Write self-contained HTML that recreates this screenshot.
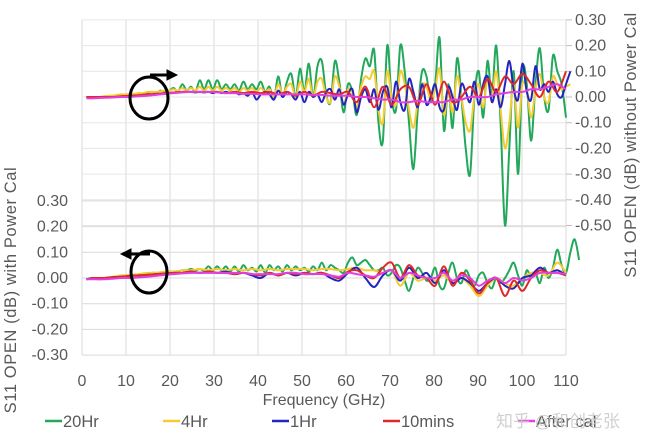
<!DOCTYPE html>
<html><head><meta charset="utf-8"><style>
html,body{margin:0;padding:0;background:#fff}
svg{display:block;font-family:"Liberation Sans","Noto Sans CJK SC",sans-serif}
</style></head><body>
<svg id="c" width="650" height="446" viewBox="0 0 650 446">
<g id="grid"></g>
<g id="axes"></g>
<g id="lines"></g>
<g fill="none" stroke="#000" stroke-width="3">
<ellipse cx="149" cy="98" rx="19" ry="21"/>
<path d="M150 75 H170"/><path d="M167 70 L177 75 L167 80 Z" fill="#000" stroke-width="1"/>
</g>
<g fill="none" stroke="#000" stroke-width="3">
<ellipse cx="149" cy="272" rx="18" ry="21"/>
<path d="M150 254 H128"/><path d="M131 249 L121 254 L131 259 Z" fill="#000" stroke-width="1"/>
</g>
<text x="16" y="290" transform="rotate(-90 16 290)" text-anchor="middle" font-size="16.5" letter-spacing="0.6" fill="#595959">S11 OPEN (dB) with Power Cal</text>
<text x="636" y="145" transform="rotate(-90 636 145)" text-anchor="middle" font-size="16.5" letter-spacing="0.4" fill="#595959">S11 OPEN (dB) without Power Cal</text>
<text x="324" y="405" text-anchor="middle" font-size="16" fill="#595959">Frequency (GHz)</text>
<g id="legend"></g>
<text x="496" y="427" font-size="17" fill="#c8c8c8" opacity="0.85">知乎 @和创老张</text>
</svg>
<script>
const xTicks=[0,10,20,30,40,50,60,70,80,90,100,110];
const leftTicks=[0.30,0.20,0.10,0.00,-0.10,-0.20,-0.30];
const rightTicks=[0.30,0.20,0.10,0.00,-0.10,-0.20,-0.30,-0.40,-0.50];
const legendNames=["20Hr","4Hr","1Hr","10mins","After cal"];
const colors=["#22a85a","#f2cc30","#2424c0","#e02828","#e040e0"];

const top20Hr=[0,0,0,0,0,.003,.005,.005,.01,.005,.01,.008,.015,.01,.015,.02,.015,.025,.02,.025,.035,.02,.05,.025,.04,.02,.065,.03,.065,.03,.065,.03,.05,.03,.05,.025,.06,.03,.05,.03,.06,.02,.04,-.01,.08,0,.06,.09,0,.11,.02,.13,0,.12,.14,.01,-.02,.14,.06,-.06,.05,.02,-.07,.07,.15,.12,.18,-.1,-.17,.2,0,-.05,.2,.1,-.1,-.28,-.05,.1,.08,-.02,.05,.23,-.13,.05,-.12,.15,0,-.2,-.3,0,.1,-.08,.14,0,.2,-.1,-.5,-.2,.1,-.3,.1,.05,-.17,.05,.19,0,-.05,.16,.1,.05,-.08];
const top4Hr=[0,0,0,0,.003,.005,.005,.008,.01,.01,.012,.012,.015,.015,.02,.02,.02,.022,.025,.025,.03,.025,.035,.025,.035,.025,.04,.025,.04,.025,.04,.025,.035,.025,.035,.02,.035,.025,.035,.02,.035,.02,.03,0,.05,.01,.04,.05,0,.06,.02,.07,0,.06,.07,0,-.02,.08,.04,-.03,.03,.02,-.04,.04,.08,.07,.1,-.05,-.1,.1,0,-.03,.1,.05,-.05,-.12,-.02,.05,.04,-.01,.03,.11,-.07,.03,-.06,.08,0,-.1,-.13,0,.05,-.04,.07,0,.1,-.05,-.2,-.1,.05,-.12,.05,.03,-.08,.03,.09,0,-.02,.08,.05,.03,.04,.05];
const top1Hr=[0,0,0,0,0,0,0,0,.002,.003,.004,.005,.005,.006,.007,.008,.01,.012,.013,.015,.017,.018,.02,.02,.02,.018,.02,.018,.02,.015,.02,.015,.02,.015,.02,.01,.015,.005,.02,-.01,.01,.02,.01,-.01,.025,0,.02,.01,-.01,.02,-.02,.02,0,.01,-.02,.02,.03,-.01,.03,-.03,.01,.03,-.06,0,.03,-.02,.03,-.05,.02,.04,-.04,.06,-.02,-.05,.07,.02,-.04,.05,-.03,0,.05,-.04,-.05,.04,0,-.05,.05,.02,-.02,.06,-.03,.05,.08,-.02,.03,-.04,.05,.14,.03,-.01,.13,.02,-.01,.12,.03,.05,.02,.06,.01,0,.05,.1];
const top10mins=[0,0,0,0,.003,.005,.007,.01,.012,.015,.017,.02,.02,.02,.02,.02,.015,.02,.015,.02,.015,.02,.01,.02,.005,.02,.005,.02,.015,.01,.02,-.02,.04,-.04,.04,-.03,.03,.04,-.03,.05,-.03,.06,-.02,0,.04,0,.07,.02,.08,.05,.09,.05,0,.06,.02,.1];
const topAfterCal=[-.005,-.005,-.003,-.002,0,0,.003,.005,.008,.012,.015,.018,.02,.02,.02,.018,.015,.015,.012,.012,.01,.01,.01,.01,.01,.01,.008,.008,.005,.005,.005,0,0,-.005,-.01,-.01,-.02,-.02,-.015,-.02,-.02,-.02,-.01,-.01,0,0,0,.01,.015,.02,.02,.03,.03,.04,.05,.03];

const bot20Hr=[-.005,0,0,0,0,0,.003,.005,.005,.008,.01,.01,.012,.015,.015,.02,.02,.02,.022,.025,.025,.025,.03,.03,.035,.03,.035,.03,.045,.03,.045,.03,.045,.025,.045,.025,.05,.03,.04,.025,.05,.02,.05,.03,.045,.025,.05,.03,.045,.03,.04,.025,.045,.03,.06,.03,.05,.04,.03,.02,.06,.08,.05,.06,.07,.05,.03,.03,.04,.01,.02,.05,.04,-.01,-.05,0,.04,.02,-.01,0,.04,-.03,-.04,.02,.06,0,-.02,.03,0,-.03,.01,.02,-.02,-.04,0,-.02,0,.03,.06,.01,-.03,.03,0,.02,-.02,.04,0,.04,.11,.05,.02,.1,.15,.07];
const bot4Hr=[-.005,0,0,.005,.01,.012,.015,.02,.02,.025,.025,.03,.03,.035,.03,.035,.03,.035,.03,.035,.03,.035,.03,.035,.035,.035,.03,.035,.035,.03,.035,.04,.03,.03,.02,.03,-.03,.02,-.01,0,-.01,.01,-.02,0,-.03,-.07,-.03,0,-.02,-.03,0,.02,.02,.01,.06,.02];
const bot1Hr=[-.005,0,0,.003,.005,.008,.01,.012,.015,.017,.02,.02,.025,.02,.025,.02,.025,.015,.02,.01,0,.02,.01,.02,.01,.02,.015,.02,0,-.01,.02,.04,0,-.035,.01,.03,-.01,.04,0,.02,-.02,.03,-.02,0,-.02,-.05,-.02,0,-.03,-.04,0,.01,.04,.02,.03,.01];
const bot10mins=[-.005,0,0,.003,.005,.008,.01,.012,.015,.017,.02,.02,.025,.02,.025,.02,.02,.015,.02,.015,.01,.02,.01,.02,.015,.02,.015,.02,.01,0,.025,.03,.01,0,.04,.06,0,.05,.01,0,-.03,.045,-.03,.02,-.01,-.06,-.02,0,-.07,-.01,-.05,0,.03,.02,.02,.01];
const botAfterCal=[-.005,-.005,-.005,-.003,0,0,.002,.005,.008,.012,.015,.018,.02,.02,.02,.02,.02,.02,.02,.015,.015,.015,.015,.02,.02,.015,.015,.015,.01,.005,.02,.015,.01,.005,.02,.03,0,.02,.01,0,0,.02,-.01,.01,0,-.03,-.01,0,-.02,0,-.01,0,.02,.02,.02,.015];

const seriesList=[
 {name:"20hr-top",vals:top20Hr,step:1,panel:"top",c:0},
 {name:"4hr-top",vals:top4Hr,step:1,panel:"top",c:1},
 {name:"1hr-top",vals:top1Hr,step:1,panel:"top",c:2},
 {name:"10mins-top",vals:top10mins,step:2,panel:"top",c:3},
 {name:"after-cal-top",vals:topAfterCal,step:2,panel:"top",c:4},
 {name:"20hr-bottom",vals:bot20Hr,step:1,panel:"bot",c:0},
 {name:"4hr-bottom",vals:bot4Hr,step:2,panel:"bot",c:1},
 {name:"1hr-bottom",vals:bot1Hr,step:2,panel:"bot",c:2},
 {name:"10mins-bottom",vals:bot10mins,step:2,panel:"bot",c:3},
 {name:"after-cal-bottom",vals:botAfterCal,step:2,panel:"bot",c:4}
];

const NS="http://www.w3.org/2000/svg";
const X0=82,X1=566,FMAX=110;
function xScale(f){return X0+f*(X1-X0)/FMAX;}
function yRight(v){return 97-v*257;}
function yLeft(v){return 278-v*257;}
function mk(tag,attrs,parent){const e=document.createElementNS(NS,tag);for(const k in attrs)e.setAttribute(k,attrs[k]);parent.appendChild(e);return e;}

const grid=document.getElementById('grid'),axes=document.getElementById('axes'),lines=document.getElementById('lines'),legend=document.getElementById('legend');
xTicks.forEach(t=>{
 const l=mk('line',{x1:xScale(t),x2:xScale(t),y1:yRight(0.30),y2:yLeft(-0.30),stroke:'#d9d9d9','stroke-width':1},grid);
 
 
 const tx=mk('text',{x:xScale(t),y:386,'text-anchor':'middle','font-size':16,fill:'#595959'},axes);
 tx.textContent=t;
 
 
});
leftTicks.forEach(t=>{
 const l=mk('line',{x1:X0,x2:X1,y1:yLeft(t),y2:yLeft(t),stroke:'#d9d9d9','stroke-width':1},grid);
 
 
 const tx=mk('text',{x:68,y:yLeft(t)+5,'text-anchor':'end','font-size':16,fill:'#595959'},axes);
 tx.textContent=t.toFixed(2);
 
 
});
rightTicks.forEach(t=>{
 const l=mk('line',{x1:X0,x2:X1,y1:yRight(t),y2:yRight(t),stroke:'#e6e6e6','stroke-width':1},grid);
 
 
 const tk=mk('line',{x1:X1,x2:X1+6,y1:yRight(t),y2:yRight(t),stroke:'#bfbfbf','stroke-width':1},axes);
 
 
 const tx=mk('text',{x:X1+9,y:yRight(t)+5,'font-size':16,fill:'#595959'},axes);
 tx.textContent=t.toFixed(2);
 
 
});

function smoothPath(pts){
 let d='M'+pts[0][0].toFixed(1)+' '+pts[0][1].toFixed(1);
 for(let i=0;i<pts.length-1;i++){
  const p0=pts[Math.max(0,i-1)],p1=pts[i],p2=pts[i+1],p3=pts[Math.min(pts.length-1,i+2)];
  const c1x=p1[0]+(p2[0]-p0[0])/6,c1y=p1[1]+(p2[1]-p0[1])/6;
  const c2x=p2[0]-(p3[0]-p1[0])/6,c2y=p2[1]-(p3[1]-p1[1])/6;
  d+=' C'+c1x.toFixed(1)+' '+c1y.toFixed(1)+' '+c2x.toFixed(1)+' '+c2y.toFixed(1)+' '+p2[0].toFixed(1)+' '+p2[1].toFixed(1);
 }
 return d;
}
seriesList.forEach(s=>{
 const ys=s.panel==='top'?yRight:yLeft;
 const pts=s.vals.map((v,i)=>[xScale(1+i*s.step*(109/110)),ys(v)]);
 const p=mk('path',{d:smoothPath(pts),fill:'none',stroke:colors[s.c],'stroke-width':2,'stroke-linejoin':'round'},lines);
 
 
});

const legX=[45,163,272,383,518];
legendNames.forEach((n,i)=>{
 const l=mk('line',{x1:legX[i],x2:legX[i]+17,y1:421,y2:421,stroke:colors[i],'stroke-width':2.5},legend);
 
 
 const t=mk('text',{x:legX[i]+18,y:427,'font-size':16.5,fill:'#595959'},legend);
 t.textContent=n;
 
 
});
</script>
</body></html>
